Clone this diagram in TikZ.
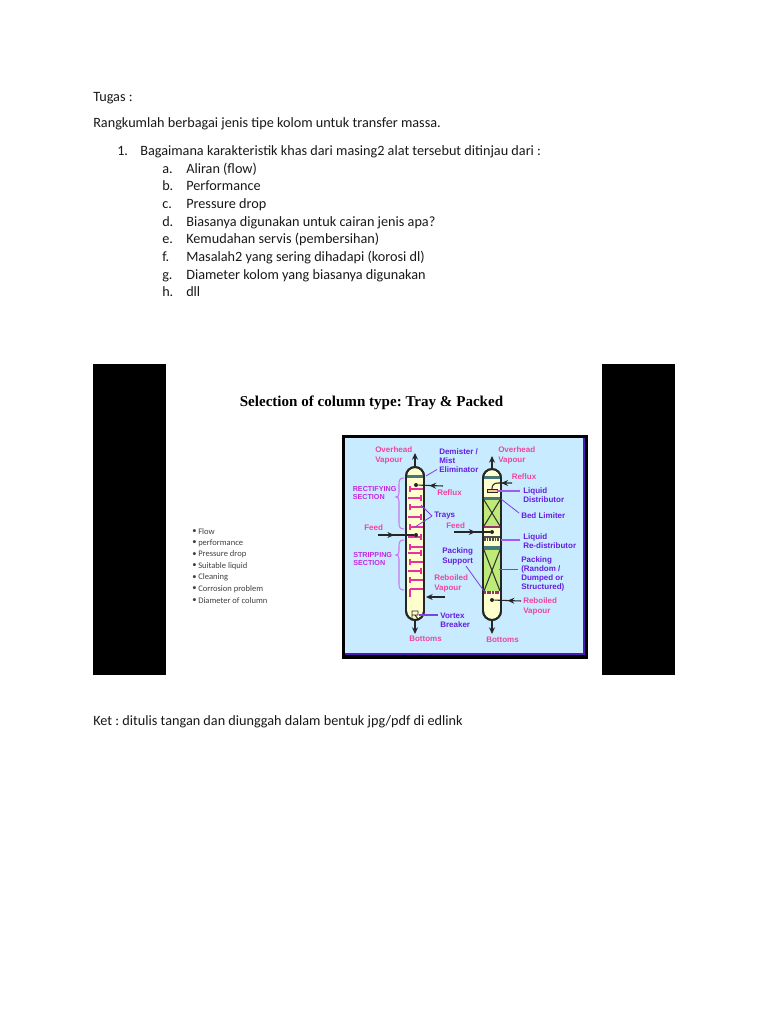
\documentclass[tikz,border=0pt]{standalone}
\usepackage{fontspec}
\setmainfont{Carlito}
\newfontfamily\arialf{Liberation Sans}
\newfontfamily\timesf{Liberation Serif}
\usetikzlibrary{decorations.markings,arrows.meta}
\frenchspacing
\definecolor{panelblue}{RGB}{200,235,255}
\definecolor{pinkl}{RGB}{238,70,160}
\definecolor{purp}{RGB}{100,30,225}
\definecolor{magen}{RGB}{195,40,225}
\definecolor{brc}{RGB}{200,120,240}
\definecolor{lead}{RGB}{160,90,240}
\definecolor{colyel}{RGB}{255,255,205}
\definecolor{bedgreen}{RGB}{190,235,120}
\definecolor{strip}{RGB}{70,120,120}
\definecolor{maroon}{RGB}{150,50,110}
\definecolor{tray}{RGB}{230,50,160}
\tikzset{
 x=0.75pt,y=-0.75pt,
 body/.style={anchor=base west,inner sep=0pt,font=\fontsize{10.67}{13}\selectfont,text=black!90},
 bul/.style={anchor=west,inner sep=0pt,font=\fontsize{6.4}{8}\selectfont,text=black!75},
 lab/.style={anchor=west,inner sep=0pt,align=left,font=\arialf\bfseries\fontsize{6}{6.9}\selectfont},
 pk/.style={lab,text=pinkl},
 pu/.style={lab,text=purp},
 mg/.style={lab,text=magen,font=\arialf\bfseries\fontsize{5.4}{6}\selectfont},
 vessel/.style={draw=black!85,line width=1.4pt,fill=colyel},
 flow/.style={draw=black!85,line width=0.8pt,postaction={decorate},decoration={markings,mark=at position #1 with {\arrow{Stealth[length=5pt,width=4.5pt]}}}},
 flowend/.style={draw=black!85,line width=0.8pt,-{Stealth[length=5pt,width=4.5pt]}},
 leaddark/.style={draw=purp!85,line width=0.6pt},
 leadlight/.style={draw=lead,line width=1pt},
 brace/.style={draw=brc,line width=0.8pt},
 trayline/.style={draw=tray,line width=0.9pt},
 dotn/.style={circle,fill=black!85,inner sep=0pt,minimum size=3pt},
}
\begin{document}
\begin{tikzpicture}
\useasboundingbox (0,0) rectangle (768,1024);
\fill[white] (0,0) rectangle (768,1024);
% document text
\node[body] (t1) at (93,101) {Tugas :};
\node[body] (t2) at (93,127.5) {Rangkumlah berbagai jenis tipe kolom untuk transfer massa.};
\node[body] (n1) at (117,155) {1.};
\node[body] (n1t) at (140,155) {Bagaimana karakteristik khas dari masing2 alat tersebut ditinjau dari :};
\foreach \nm/\yy/\lt/\tx in {a/173/a./Aliran (flow),b/190/b./Performance,c/208/c./Pressure drop,d/226/d./Biasanya digunakan untuk cairan jenis apa?,e/243/e./Kemudahan servis (pembersihan),f/261/f./Masalah2 yang sering dihadapi (korosi dl),g/279/g./Diameter kolom yang biasanya digunakan,h/296/h./dll}{
  \node[body] (l\nm) at (162,\yy) {\lt};
  \node[body] (x\nm) at (186,\yy) {\tx};
}
\node[body] (ket) at (93,725) {Ket : ditulis tangan dan diunggah dalam bentuk jpg/pdf di edlink};
% slide
\fill[black] (93,364) rectangle (166,675);
\fill[black] (602,364) rectangle (675,675);
\node[inner sep=0pt,font=\timesf\bfseries\fontsize{11.3}{14}\selectfont] (title) at (371.5,403) {Selection of column type: Tray \& Packed};
\foreach \nm/\yy/\tx in {1/531.5/Flow,2/543/performance,3/554.5/Pressure drop,4/566/Suitable liquid,5/577.5/Cleaning,6/589/Corrosion problem,7/600.5/Diameter of column}{
  \node[bul] (bd\nm) at (192,\yy) {•};
  \node[bul] (bt\nm) at (198,\yy) {\tx};
}
% panel
\fill[black] (342,435) rectangle (588,659);
\fill[purp!80!black] (345,438) rectangle (584.5,655);
\fill[panelblue] (345,438) rectangle (582.5,653);
% column 1 (trays)
\path[vessel] (406,476) arc[start angle=180,end angle=360,radius=9] -- (424,611) arc[start angle=0,end angle=180,radius=9] -- cycle;
\fill[strip] (407,475) rectangle (423,478);
\foreach \yy/\s in {489/0,498/1,507/0,517/1,527/0,537/1,547/0,553/1,562/0,571/1,580/0}{
  \ifnum\s=0
    \draw[trayline] (410,\yy-3) -- (410,\yy+3) (410,\yy) -- (423,\yy);
  \else
    \draw[trayline] (408,\yy) -- (421,\yy) (421,\yy-3) -- (421,\yy+3);
  \fi
}
\draw[trayline] (410,589) -- (410,597) (410,589) -- (423,589);
\path[vessel,fill=none] (406,476) arc[start angle=180,end angle=360,radius=9] -- (424,611) arc[start angle=0,end angle=180,radius=9] -- cycle;
\node[dotn] (refl1) at (416,485) {};
\node[dotn] (feed1) at (416,535) {};
\draw[black!85,line width=0.7pt] (412,619) -- (412,611) -- (418,611) -- (418,615) -- (412,615) (415,615) -- (418,619);
\coordinate (top1) at (415,467);
\coordinate (top1e) at (415,453);
\coordinate (bot1) at (415,620);
\coordinate (bot1e) at (415,634);
\coordinate (reflux1s) at (443,486);
\coordinate (feed1s) at (378,535);
\coordinate (reb1s) at (445,597);
\coordinate (reb1e) at (426,597);
\draw[flowend] (top1) -- (top1e);
\draw[flowend] (bot1) -- (bot1e);
\draw[flow=0.55] (reflux1s) -- (refl1);
\draw[flow=0.45] (feed1s) -- (feed1);
\draw[flowend] (reb1s) -- (reb1e);
% braces
\draw[brace] (404,478) .. controls (400,478) and (399,480) .. (399,484) -- (399,493) .. controls (399,496) and (398,497) .. (396,497) .. controls (398,497) and (399,498) .. (399,501) -- (399,523) .. controls (399,527) and (400,529) .. (404,529);
\draw[brace] (404,540) .. controls (400,540) and (399,542) .. (399,546) -- (399,551) .. controls (399,554) and (398,555) .. (396,555) .. controls (398,555) and (399,556) .. (399,559) -- (399,584) .. controls (399,588) and (400,590) .. (404,590);
% column 2 (packed)
\path[vessel] (483,478) arc[start angle=180,end angle=360,radius=9] -- (501,611) arc[start angle=0,end angle=180,radius=9] -- cycle;
\fill[strip] (484,476) rectangle (500,478.5);
\fill[bedgreen] (484,500) rectangle (500,526);
\fill[bedgreen] (484,550) rectangle (500,591);
\draw[black!80,line width=0.8pt] (484,500) -- (500,526) (500,500) -- (484,526);
\draw[black!80,line width=0.8pt] (484,550) -- (500,591) (500,550) -- (484,591);
\fill[strip] (484,497) rectangle (500,500);
\fill[strip] (484,546) rectangle (500,550);
\fill[maroon] (484,525.5) rectangle (500,528);
\fill[black!70] (484,536) rectangle (500,537.5);
\draw[black!70,line width=2.2pt,dash pattern=on 1.2pt off 0.8pt] (484,539.5) -- (500,539.5);
\draw[maroon,line width=2.6pt,dash pattern=on 1.4pt off 0.6pt] (484,592.5) -- (500,592.5);
\node[draw=black!85,fill=orange!45,line width=0.6pt,minimum width=7.5pt,minimum height=2.6pt,inner sep=0pt] (dist) at (492,491) {};
\path[vessel,fill=none] (483,478) arc[start angle=180,end angle=360,radius=9] -- (501,611) arc[start angle=0,end angle=180,radius=9] -- cycle;
\node[dotn] (feed2) at (492,532) {};
\node[dotn] (reb2) at (492,600) {};
\coordinate (top2) at (492,469);
\coordinate (top2e) at (492,456);
\coordinate (bot2) at (492,621);
\coordinate (bot2e) at (492,634);
\coordinate (reflux2s) at (512,483);
\coordinate (feed2s) at (454,532);
\coordinate (reb2s) at (521,601);
\draw[flowend] (top2) -- (top2e);
\draw[flowend] (bot2) -- (bot2e);
\draw[flow=0.45] (reflux2s) -- (498,483) .. controls (494,483) and (492,485) .. (dist.north);
\draw[flow=0.6] (feed2s) -- (feed2);
\draw[flow=0.5] (reb2s) -- (reb2);
% labels
\node[pk] (ov1) at (375,455.5) {Overhead\\Vapour};
\node[pu] (dem) at (439,460.5) {Demister /\\Mist\\Eliminator};
\node[mg] (rect) at (352.5,493) {RECTIFYING\\SECTION};
\node[pk] (rf1) at (437,493) {Reflux};
\node[pu] (trays) at (434,515.5) {Trays};
\node[pk] (fd1) at (364,528) {Feed};
\node[pk] (fd2) at (446,526) {Feed};
\node[mg] (strp) at (353,559) {STRIPPING\\SECTION};
\node[pu] (psup) at (442,556.5) {Packing\\Support};
\node[pk] (rb1) at (434,583.5) {Reboiled\\Vapour};
\node[pu] (vort) at (440,620) {Vortex\\Breaker};
\node[pk] (bt1) at (409,639) {Bottoms};
\node[pk] (ov2) at (498,455.5) {Overhead\\Vapour};
\node[pk] (rf2) at (511.5,477) {Reflux};
\node[pu] (ld) at (523,495.5) {Liquid\\Distributor};
\node[pu] (bl) at (521,515.5) {Bed Limiter};
\node[pu] (lr) at (523,541) {Liquid\\Re-distributor};
\node[pu] (pack) at (521,574) {Packing\\(Random /\\Dumped or\\Structured)};
\node[pk] (rb2) at (523,606.5) {Reboiled\\Vapour};
\node[pk] (bt2) at (486,640) {Bottoms};
% leaders
\coordinate (demt) at (426,476);
\coordinate (deme) at (437,469.5);
\coordinate (vortb) at (419,615);
\coordinate (vorte) at (438,615);
\coordinate (tray1) at (421,505);
\coordinate (tray2) at (415,527);
\coordinate (traye) at (432,516);
\coordinate (distr) at (497,491);
\coordinate (diste) at (520,491);
\coordinate (bedr) at (501,499);
\coordinate (bede) at (519,513);
\coordinate (redr) at (501,540);
\coordinate (rede) at (520,540);
\coordinate (packc) at (499,569);
\coordinate (packe) at (518,569);
\coordinate (supt) at (466,566);
\coordinate (supb) at (484,591);
\draw[leaddark] (demt) -- (deme);
\draw[leaddark,line width=0.8pt] (vortb) -- (vorte);
\draw[leaddark] (tray1) -- (traye);
\draw[leaddark] (tray2) -- (traye);
\draw[leadlight] (distr) -- (diste);
\draw[leaddark] (bedr) -- (bede);
\draw[leadlight] (redr) -- (rede);
\draw[leaddark] (packc) -- (packe);
\draw[leaddark] (supt) -- (supb);
\end{tikzpicture}
\end{document}
